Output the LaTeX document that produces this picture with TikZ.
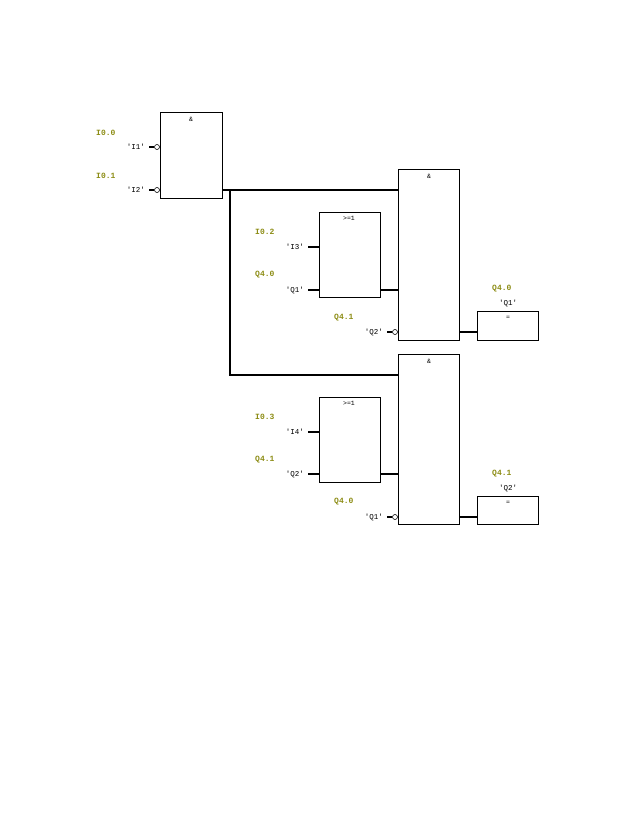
\documentclass[tikz,border=0pt]{standalone}
\usepackage{fontspec}
\setmonofont{Liberation Mono}
\definecolor{olive}{RGB}{140,140,20}
\begin{document}
\begin{tikzpicture}[x=1pt,y=-1pt,
  ttl/.style={font=\ttfamily\fontsize{6.5}{7}\selectfont,inner sep=0pt},
  adr/.style={font=\ttfamily\bfseries\fontsize{8}{9}\selectfont,text=olive,inner sep=0pt},
  sym/.style={font=\ttfamily\fontsize{7.5}{8}\selectfont,inner sep=0pt,anchor=east},
  wire/.style={line width=1.1pt},
  bx/.style={line width=0.6pt},
  neg/.style={draw,circle,line width=0.6pt,minimum size=5pt,inner sep=0pt}]
\useasboundingbox (0,0) rectangle (638,826);
% AND1
\draw[bx] (160,112) rectangle (222,198);
\node[ttl] (a1t) at (191,119) {\&};
\node[neg] (n1) at (157,147) {}; \node[neg] (n2) at (157,190) {};
\draw[wire] (149,147) -- (n1.west); \draw[wire] (149,190) -- (n2.west);
\node[adr,anchor=west] (l1) at (96,133) {I0.0};
\node[sym] (s1) at (145,147) {'I1'};
\node[adr,anchor=west] (l2) at (96,176) {I0.1};
\node[sym] (s2) at (145,190) {'I2'};
% wires from AND1
\coordinate (j1) at (230,190);
\draw[wire] (222,190) -- (398,190);
\draw[wire] (j1) -- (230,375) -- (398,375);
% AND2
\draw[bx] (398,169) rectangle (459,340);
\node[ttl] (a2t) at (429,176) {\&};
% OR1
\draw[bx] (319,212) rectangle (380,297);
\node[ttl] (o1t) at (349,218) {>=1};
\draw[wire] (308,247) -- (319,247); \draw[wire] (308,290) -- (319,290);
\draw[wire] (380,290) -- (398,290);
\node[adr,anchor=west] (l3) at (255,232) {I0.2};
\node[sym] (s3) at (304,247) {'I3'};
\node[adr,anchor=west] (l4) at (255,275) {Q4.0};
\node[sym] (s4) at (304,290) {'Q1'};
\node[neg] (n3) at (395,332) {};
\draw[wire] (387,332) -- (n3.west);
\node[adr,anchor=west] (l5) at (334,318) {Q4.1};
\node[sym] (s5) at (383,332) {'Q2'};
% assign 1
\draw[wire] (459,332) -- (477,332);
\draw[bx] (477,311) rectangle (538,340);
\node[ttl] (e1) at (508,318) {=};
\node[adr,anchor=west] (l6) at (492,289) {Q4.0};
\node[font=\ttfamily\fontsize{7.5}{8}\selectfont,inner sep=0pt] (s6) at (508,303) {'Q1'};
% AND3
\draw[bx] (398,354) rectangle (459,524);
\node[ttl] (a3t) at (429,361) {\&};
% OR2
\draw[bx] (319,397) rectangle (380,482);
\node[ttl] (o2t) at (349,403) {>=1};
\draw[wire] (308,432) -- (319,432); \draw[wire] (308,474) -- (319,474);
\draw[wire] (380,474) -- (398,474);
\node[adr,anchor=west] (l7) at (255,417) {I0.3};
\node[sym] (s7) at (304,432) {'I4'};
\node[adr,anchor=west] (l8) at (255,460) {Q4.1};
\node[sym] (s8) at (304,474) {'Q2'};
\node[neg] (n4) at (395,517) {};
\draw[wire] (387,517) -- (n4.west);
\node[adr,anchor=west] (l9) at (334,502) {Q4.0};
\node[sym] (s9) at (383,517) {'Q1'};
% assign 2
\draw[wire] (459,517) -- (477,517);
\draw[bx] (477,496) rectangle (538,524);
\node[ttl] (e2) at (508,503) {=};
\node[adr,anchor=west] (l10) at (492,474) {Q4.1};
\node[font=\ttfamily\fontsize{7.5}{8}\selectfont,inner sep=0pt] (s10) at (508,488) {'Q2'};
\end{tikzpicture}
\end{document}
